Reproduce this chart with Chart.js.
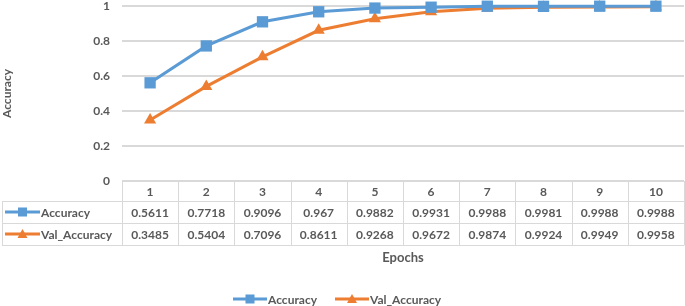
<!DOCTYPE html>
<html><head><meta charset="utf-8">
<script src="https://cdn.jsdelivr.net/npm/chart.js@4/dist/chart.umd.min.js"></script>
<style>html,body{margin:0;padding:0;background:#fff}#wrap{width:685px;height:306px;position:relative}</style>
</head><body><div id="wrap"><canvas id="c" width="685" height="306"></canvas></div>
<script>
const categories = ['1','2','3','4','5','6','7','8','9','10'];
const accuracy = [0.5611, 0.7718, 0.9096, 0.967, 0.9882, 0.9931, 0.9988, 0.9981, 0.9988, 0.9988];
const valAccuracy = [0.3485, 0.5404, 0.7096, 0.8611, 0.9268, 0.9672, 0.9874, 0.9924, 0.9949, 0.9958];
const accuracyText = ['0.5611','0.7718','0.9096','0.967','0.9882','0.9931','0.9988','0.9981','0.9988','0.9988'];
const valAccuracyText = ['0.3485','0.5404','0.7096','0.8611','0.9268','0.9672','0.9874','0.9924','0.9949','0.9958'];
const seriesNames = ['Accuracy','Val_Accuracy'];
const yTitle = 'Accuracy';
const xTitle = 'Epochs';

const BLUE = '#5B9BD5', ORANGE = '#ED7D31', TXT = '#595959', GRID = '#D9D9D9';
const FONT = 'Lato, "Open Sans", sans-serif';

function drawKey(ctx, x1, x2, y, color, style) {
  ctx.save();
  ctx.strokeStyle = color; ctx.lineWidth = 3;
  ctx.beginPath(); ctx.moveTo(x1, y); ctx.lineTo(x2, y); ctx.stroke();
  const cx = (x1 + x2) / 2;
  ctx.fillStyle = color;
  if (style === 'rect') { ctx.fillRect(cx - 4.5, y - 4.5, 9, 9); }
  else { ctx.beginPath(); ctx.moveTo(cx, y - 5); ctx.lineTo(cx + 5, y + 4); ctx.lineTo(cx - 5, y + 4); ctx.closePath(); ctx.fill(); }
  ctx.restore();
}

const tablePlugin = {
  id: 'tablePlugin',
  afterDraw(chart) {
    const ctx = chart.ctx, x = chart.scales.x, area = chart.chartArea;
    const n = categories.length;
    const w = (area.right - area.left) / n;
    const top = area.bottom, r1 = top + 20, r2 = r1 + 22, r3 = r2 + 22;
    ctx.save();
    ctx.strokeStyle = GRID; ctx.lineWidth = 1;
    ctx.beginPath();
    ctx.moveTo(area.left, top + 0.5); ctx.lineTo(area.right, top + 0.5);
    [r1, r2, r3].forEach(y => { ctx.moveTo(2, y + 0.5); ctx.lineTo(area.right, y + 0.5); });
    ctx.moveTo(2.5, r1); ctx.lineTo(2.5, r3);
    for (let i = 0; i <= n; i++) {
      const bx = Math.round(area.left + i * w) + 0.5;
      ctx.moveTo(bx, top); ctx.lineTo(bx, r3 + 0.5);
    }
    ctx.stroke();
    ctx.fillStyle = TXT; ctx.font = 'bold 12px ' + FONT;
    ctx.textAlign = 'center'; ctx.textBaseline = 'middle';
    categories.forEach((c, i) => {
      const cx = x.getPixelForValue(i);
      ctx.fillText(c, cx, (top + r1) / 2 + 1);
      ctx.fillText(accuracyText[i], cx, (r1 + r2) / 2 + 1);
      ctx.fillText(valAccuracyText[i], cx, (r2 + r3) / 2 + 1);
    });
    drawKey(ctx, 5, 40, (r1 + r2) / 2, BLUE, 'rect');
    drawKey(ctx, 5, 40, (r2 + r3) / 2, ORANGE, 'tri');
    ctx.textAlign = 'left'; ctx.fillStyle = TXT;
    ctx.fillText(seriesNames[0], 41, (r1 + r2) / 2 + 1);
    ctx.fillText(seriesNames[1], 41, (r2 + r3) / 2 + 1);
    ctx.textAlign = 'center'; ctx.font = 'bold 13px ' + FONT;
    ctx.fillText(xTitle, (area.left + area.right) / 2, 258);
    ctx.font = 'bold 12px ' + FONT; ctx.textAlign = 'left';
    drawKey(ctx, 233, 267, 299, BLUE, 'rect');
    ctx.fillStyle = TXT; ctx.fillText(seriesNames[0], 268, 300);
    drawKey(ctx, 335, 369, 299, ORANGE, 'tri');
    ctx.fillStyle = TXT; ctx.fillText(seriesNames[1], 370, 300);
    ctx.restore();
  }
};

new Chart(document.getElementById('c'), {
  type: 'line',
  data: {
    labels: categories,
    datasets: [
      { label: seriesNames[0], data: accuracy, borderColor: BLUE, backgroundColor: BLUE, borderWidth: 3,
        pointStyle: 'rect', pointRadius: 8, pointHoverRadius: 8, pointBorderWidth: 0, clip: false, tension: 0 },
      { label: seriesNames[1], data: valAccuracy, borderColor: ORANGE, backgroundColor: ORANGE, borderWidth: 3,
        pointStyle: 'triangle', pointRadius: 7, pointHoverRadius: 7, pointBorderWidth: 0, clip: false, tension: 0 }
    ]
  },
  options: {
    responsive: false, animation: false, devicePixelRatio: 1,
    layout: { autoPadding: false, padding: { top: 0, right: 1, bottom: 125, left: 0 } },
    plugins: { legend: { display: false }, tooltip: { enabled: false } },
    scales: {
      x: { display: false, offset: true },
      y: {
        min: 0, max: 1,
        afterFit(s) { s.width = 122; s.paddingTop = 6; s.paddingBottom = 0; },
        border: { display: false },
        grid: { color: GRID, lineWidth: 2, drawTicks: false },
        ticks: { stepSize: 0.2, padding: 12, color: TXT, font: { family: FONT, weight: 'bold', size: 12, lineHeight: 1 },
          callback: v => String(Math.round(v * 10) / 10) },
        title: { display: true, text: yTitle, color: TXT, font: { family: FONT, weight: 'bold', size: 12 }, padding: 0 }
      }
    }
  },
  plugins: [tablePlugin]
});
</script></body></html>
